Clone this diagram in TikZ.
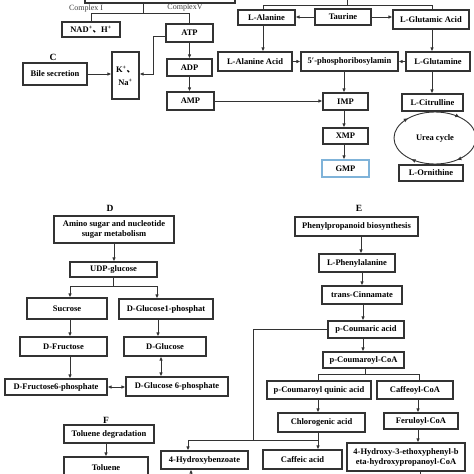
\documentclass[tikz,border=0pt]{standalone}
\usepackage{fontspec}
\setmainfont{Liberation Serif}
\newfontfamily\cjk{Noto Sans CJK SC}
\usetikzlibrary{arrows.meta,decorations.markings}
\definecolor{lncol}{HTML}{333333}
\definecolor{gmpblue}{HTML}{7FB3D9}
\newcommand\bx[6]{\node[bx, minimum width={(#4)-(#2)}, minimum height={(#5)-(#3)}] (#1) at ({((#2)+(#4))/2},{((#3)+(#5))/2}) {#6};}
\begin{document}
\begin{tikzpicture}[x=1pt,y=-1pt,
  bx/.style={draw=lncol, line width=1.1pt, inner sep=0pt, align=center, font=\fontsize{8.5}{10}\selectfont\bfseries},
  tip/.tip={Latex[length=4pt,width=3.5pt]},
  arr/.style={draw=lncol, line width=0.8pt, -tip},
  arrboth/.style={draw=lncol, line width=0.8pt, tip-tip},
  cn/.style={draw=lncol, line width=0.8pt},
  lab/.style={font=\fontsize{9.5}{11}\selectfont\bfseries},
  cplx/.style={font=\fontsize{8}{9}\selectfont, text=black!75}]
\fill[white] (0,0) rectangle (474,474);
\useasboundingbox (0,0) rectangle (474,474);

% ---------- top left ----------
\bx{topbox}{85}{-20}{235}{3}{}
\bx{nad}{62}{22}{120}{37}{NAD\textsuperscript{+}{\cjk 、}H\textsuperscript{+}}
\bx{atp}{166}{24}{213}{42}{ATP}
\bx{adp}{167}{59}{212}{76}{ADP}
\bx{amp}{167}{92}{214}{110}{AMP}
\bx{kna}{112}{52}{139}{99}{K\textsuperscript{+}{\cjk 、}\\[3pt]Na\textsuperscript{+}}
\bx{bile}{23}{63}{87}{85}{Bile secretion}
\node[lab] (labC) at (53,57) {C};
\node[cplx] (cx1) at (86,9) {Complex I};
\node[cplx] (cx5) at (185,8) {ComplexV};

\draw[cn] (topbox.south -| 143,0) -- (143,13);
\draw[cn] (nad.north) -- (nad.north |- 0,13) -| (atp.north);
\draw[arr] (atp.south) -- (atp.south |- adp.north);
\draw[arr] (adp.south) -- (adp.south |- amp.north);
\draw[arr] (atp.west |- 0,36) -- (153,36) |- (kna.east |- 0,74);
\draw[arr] (bile.east) -- (bile.east -| kna.west);

% ---------- top right ----------
\bx{lala}{238}{10}{295}{25}{L-Alanine}
\bx{tau}{315}{9}{371}{25}{Taurine}
\bx{lglu}{393}{10}{469}{29}{L-Glutamic Acid}
\bx{laa}{218}{52}{292}{71}{L-Alanine Acid}
\bx{phos}{301}{52}{398}{71}{5′-phosphoribosylamin}
\bx{lgln}{406}{52}{470}{71}{L-Glutamine}
\bx{imp}{323}{93}{368}{110}{IMP}
\bx{xmp}{323}{128}{368}{144}{XMP}
\node[bx, draw=gmpblue, minimum width=47, minimum height=17] (gmp) at (345.5,168.5) {GMP};
\bx{cit}{402}{94}{463}{111}{L-Citrulline}
\bx{orn}{399}{165}{463}{181}{L-Ornithine}
\node[font=\fontsize{8.5}{10}\selectfont\bfseries] (urea) at (435,138) {Urea cycle};
\coordinate (tautop) at (347,-1);

\draw[arr] (amp.east) -- (amp.east -| imp.west);
\draw[cn] (lala.north -| 263,0) -- (263,5) -- (432,5) -- (lglu.north -| 432,0);
\draw[cn] (tautop) -- (tautop |- 0,5);
\draw[arr] (tau.west) -- (tau.west -| lala.east);
\draw[arr] (tau.east) -- (tau.east -| lglu.west);
\draw[arr] (lala.south -| 263,0) -- (laa.north -| 263,0);
\draw[arr] (laa.east) -- (laa.east -| phos.west);
\draw[arr] (lgln.west) -- (lgln.west -| phos.east);
\draw[arr] (lglu.south -| 432,0) -- (lgln.north -| 432,0);
\draw[arr] (phos.south -| 344,0) -- (imp.north -| 344,0);
\draw[arr] (lgln.south -| 432,0) -- (cit.north -| 432,0);
\draw[arr] (imp.south -| 344,0) -- (xmp.north -| 344,0);
\draw[arr] (xmp.south -| 344,0) -- (gmp.north -| 344,0);
\draw[draw=lncol, line width=0.9pt, postaction={decorate},
  decoration={markings,
    mark=at position 0.13 with {\arrowreversed{Latex[length=4.5pt,width=4pt]}},
    mark=at position 0.38 with {\arrowreversed{Latex[length=4.5pt,width=4pt]}},
    mark=at position 0.635 with {\arrowreversed{Latex[length=4.5pt,width=4pt]}},
    mark=at position 0.855 with {\arrowreversed{Latex[length=4.5pt,width=4pt]}}}]
  (urea.center) ellipse [x radius=41pt, y radius=26pt];

% ---------- D ----------
\node[lab] (labD) at (110,208) {D};
\bx{amino}{54}{216}{174}{243}{Amino sugar and nucleotide\\sugar metabolism}
\bx{udp}{70}{262}{157}{277}{UDP-glucose}
\bx{suc}{27}{298}{107}{319}{Sucrose}
\bx{dgop}{119}{299}{213}{319}{D-Glucose1-phosphat}
\bx{dfru}{20}{337}{107}{356}{D-Fructose}
\bx{dglu}{124}{337}{206}{356}{D-Glucose}
\bx{dfsp}{5}{379}{107}{395}{D-Fructose6-phosphate}
\bx{dgsp}{126}{377}{228}{396}{D-Glucose 6-phosphate}
\coordinate (dbr) at (113.5,286);

\draw[arr] (amino.south) -- (amino.south |- udp.north);
\draw[cn] (udp.south) -- (dbr);
\draw[arr] (dbr) -| (suc.north -| 70,0);
\draw[arr] (dbr) -| (dgop.north -| 157,0);
\draw[arr] (suc.south -| 70,0) -- (dfru.north -| 70,0);
\draw[arr] (dgop.south -| 158,0) -- (dglu.north -| 158,0);
\draw[arr] (dfru.south -| 70,0) -- (dfsp.north -| 70,0);
\draw[arrboth] (dglu.south -| 161,0) -- (dgsp.north -| 161,0);
\draw[arrboth] (dfsp.east) -- (dfsp.east -| dgsp.west);

% ---------- F ----------
\node[lab] (labF) at (106,420) {F};
\bx{told}{64}{425}{154}{443}{Toluene degradation}
\bx{tol}{64}{457}{148}{478}{Toluene}
\draw[arr] (told.south -| 106,0) -- (tol.north -| 106,0);

% ---------- E ----------
\node[lab] (labE) at (359,208) {E};
\bx{ppb}{295}{217}{418}{236}{Phenylpropanoid biosynthesis}
\bx{lphe}{319}{254}{395}{272}{L-Phenylalanine}
\bx{tcin}{322}{286}{402}{304}{trans-Cinnamate}
\bx{pca}{328}{321}{404}{338}{p-Coumaric acid}
\bx{pcoa}{323}{352}{404}{368}{p-Coumaroyl-CoA}
\bx{pcqa}{267}{381}{371}{399}{p-Coumaroyl quinic acid}
\bx{caf}{377}{381}{453}{399}{Caffeoyl-CoA}
\bx{chl}{278}{413}{365}{432}{Chlorogenic acid}
\bx{fer}{384}{413}{458}{429}{Feruloyl-CoA}
\bx{hbz}{161}{451}{248}{469}{4-Hydroxybenzoate}
\bx{cafa}{263}{450}{342}{469}{Caffeic acid}
\bx{hyd}{347}{443}{465}{471}{4-Hydroxy-3-ethoxyphenyl-b\\eta-hydroxypropanoyl-CoA}
\coordinate (ebr) at (253,440);
\coordinate (cbr) at (365,374);
\coordinate (hbzin) at (191,485);
\coordinate (hydout) at (420,485);

\draw[arr] (ppb.south -| 361,0) -- (lphe.north -| 361,0);
\draw[arr] (lphe.south -| 362,0) -- (tcin.north -| 362,0);
\draw[arr] (tcin.south -| 363,0) -- (pca.north -| 363,0);
\draw[arr] (pca.south -| 363,0) -- (pcoa.north -| 363,0);
\draw[cn] (pca.west) -| (ebr);
\draw[arr] (ebr) -| (hbz.north -| 188,0);
\draw[cn] (ebr) -- (ebr -| 318,0);
\draw[arr] (chl.south -| 318,0) -- (cafa.north -| 318,0);
\draw[cn] (pcoa.south -| 365,0) -- (cbr);
\draw[cn] (cbr) -| (pcqa.north -| 318,0);
\draw[cn] (cbr) -| (caf.north -| 419,0);
\draw[arr] (pcqa.south -| 318,0) -- (chl.north -| 318,0);
\draw[arr] (caf.south -| 418,0) -- (fer.north -| 418,0);
\draw[arr] (fer.south -| 418,0) -- (hyd.north -| 418,0);
\draw[arr] (hbzin) -- (hbzin |- hbz.south);
\draw[cn] (hyd.south -| 420,0) -- (hydout);
\end{tikzpicture}
\end{document}
